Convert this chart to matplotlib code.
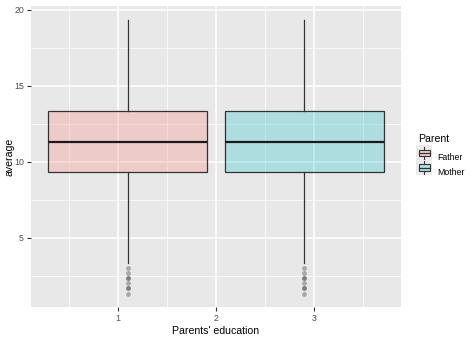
import matplotlib
matplotlib.use("Agg")
import matplotlib.pyplot as plt
from matplotlib.patches import Patch, Rectangle
from matplotlib.lines import Line2D
from matplotlib.legend_handler import HandlerBase

# summary of "average" per parent group
groups = ["Father", "Mother"]
colors = ["#F8766D", "#00BFC4"]
q1 = [9.33, 9.33]
med = [11.33, 11.33]
q3 = [13.33, 13.33]
whislo = [3.33, 3.33]
whishi = [19.33, 19.33]
fliers = [[1.33, 1.67, 1.67, 2.0, 2.33, 2.33, 2.67, 3.0],
          [1.33, 1.67, 1.67, 2.0, 2.33, 2.33, 2.67, 3.0]]

# dodged around education level 2
centre = 2
dodge = 0.9
width = 1.62
positions = [centre - dodge, centre + dodge]
fill_alpha = 0.25


class BoxKey(HandlerBase):
    # little boxplot glyph like the ggplot legend key
    def create_artists(self, legend, orig, xd, yd, w, h, fontsize, trans):
        bg = Rectangle((xd - 1, yd - 2), w + 2, h + 4, facecolor="#EBEBEB",
                       edgecolor="none", transform=trans)
        box = Rectangle((xd + 0.5, yd + h * 0.2), w - 1, h * 0.6,
                        facecolor=orig.get_facecolor(), edgecolor="#333333",
                        linewidth=0.8, transform=trans)
        mid = Line2D([xd + 0.5, xd + w - 0.5], [yd + h / 2] * 2, color="#333333",
                     linewidth=0.9, transform=trans)
        top = Line2D([xd + w / 2] * 2, [yd + h * 0.8, yd + h + 1], color="#333333",
                     linewidth=0.8, transform=trans)
        bot = Line2D([xd + w / 2] * 2, [yd - 1, yd + h * 0.2], color="#333333",
                     linewidth=0.8, transform=trans)
        return [bg, box, mid, top, bot]


plt.rcParams["font.family"] = ["Liberation Sans", "DejaVu Sans"]
fig = plt.figure(figsize=(4.74, 3.38), dpi=100)
ax = fig.add_axes([0.065, 0.092, 0.781, 0.89])
ax.set_facecolor("#E8E8E8")

stats = []
for i, g in enumerate(groups):
    stats.append(dict(label=g, med=med[i], q1=q1[i], q3=q3[i],
                      whislo=whislo[i], whishi=whishi[i], fliers=fliers[i]))

bp = ax.bxp(stats, positions=positions, widths=width, patch_artist=True,
            showcaps=False, manage_ticks=False,
            boxprops=dict(edgecolor="#333333", linewidth=0.9),
            medianprops=dict(color="#1a1a1a", linewidth=1.6),
            whiskerprops=dict(color="#333333", linewidth=0.9),
            flierprops=dict(marker="o", markersize=3.5, markerfacecolor="#333333",
                            markeredgecolor="none", alpha=0.35))
for patch, c in zip(bp["boxes"], colors):
    patch.set_facecolor(matplotlib.colors.to_rgba(c, fill_alpha))
    patch.set_zorder(3)
for k in ["medians", "whiskers", "fliers"]:
    for a in bp[k]:
        a.set_zorder(4)

ax.set_xlim(0.112, 3.888)
ax.set_ylim(0.45, 20.25)
ax.set_xticks([1, 2, 3])
ax.set_xticks([0.5, 1.5, 2.5, 3.5], minor=True)
ax.set_yticks([5, 10, 15, 20])
ax.set_yticks([2.5, 7.5, 12.5, 17.5], minor=True)
ax.grid(which="major", color="white", linewidth=1.1, zorder=0)
ax.grid(which="minor", color="white", linewidth=0.5, zorder=0)
ax.set_axisbelow(True)
for s in ax.spines.values():
    s.set_visible(False)
ax.tick_params(which="major", length=3, color="#333333", labelsize=6.3,
               labelcolor="#4D4D4D", pad=2)
ax.tick_params(which="minor", length=0)

ax.set_xlabel("Parents' education", fontsize=7.6, labelpad=2)
ax.set_ylabel("average", fontsize=7.6)
ax.yaxis.set_label_coords(-0.045, 0.5)

handles = [Patch(facecolor=matplotlib.colors.to_rgba(c, fill_alpha), label=g)
           for g, c in zip(groups, colors)]
leg = fig.legend(handles=handles, title="Parent", loc="upper left",
                 bbox_to_anchor=(0.865, 0.627), frameon=False, fontsize=6.3,
                 title_fontsize=7.6, handlelength=1.5, handleheight=1.4,
                 handletextpad=0.7, labelspacing=0.5,
                 handler_map={Patch: BoxKey()})
leg._legend_box.align = "left"
leg._legend_box.sep = 6  # gap between title and keys

fig.savefig("out.png", dpi=100)
